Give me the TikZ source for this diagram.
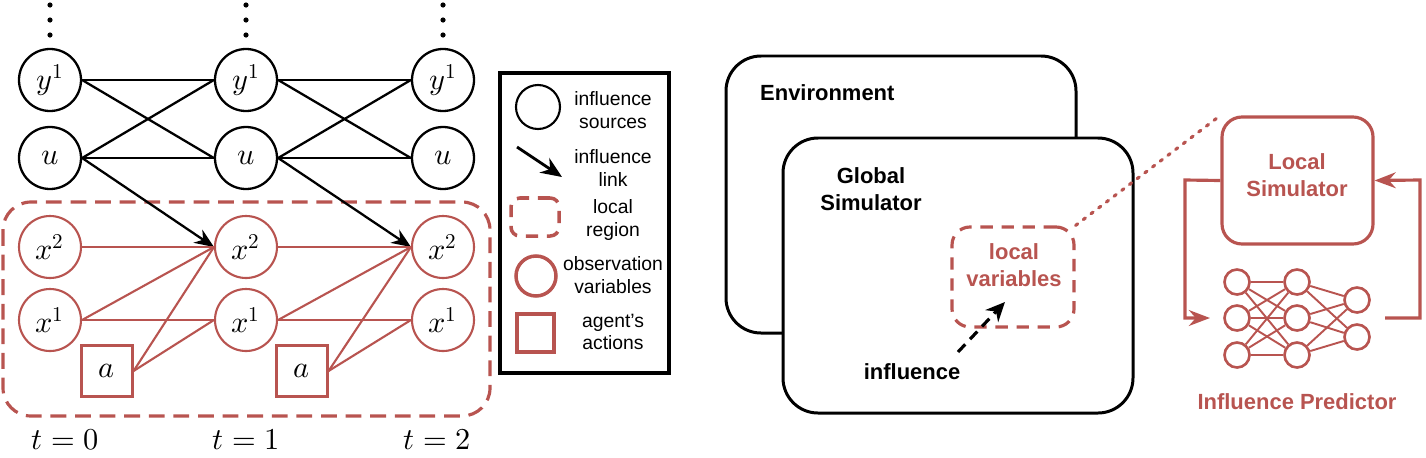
\documentclass[tikz,border=0pt]{standalone}
\usepackage{fontspec}
\setmainfont{Liberation Sans}
\usepackage{unicode-math}
\setmathfont{Latin Modern Math}
\usetikzlibrary{arrows.meta}
\definecolor{rd}{HTML}{B85450}
\begin{document}
\begin{tikzpicture}[x=0.02cm,y=-0.02cm,
  blk/.style={circle,draw=black,line width=1.3pt,minimum size=62*0.02cm,inner sep=0pt,font=\LARGE},
  obs/.style={circle,draw=rd,line width=1.2pt,minimum size=62*0.02cm,inner sep=0pt,font=\LARGE},
  act/.style={rectangle,draw=rd,line width=1.2pt,minimum size=51*0.02cm,inner sep=0pt,font=\LARGE},
  bl/.style={draw=black,line width=1.3pt},
  rl/.style={draw=rd,line width=1.2pt},
  leg/.style={font=\fontsize{11}{13}\selectfont,align=center},
  bigt/.style={font=\bfseries\fontsize{12.5}{15}\selectfont,align=center},
  arr/.style={-{Stealth[length=11pt,width=9pt]}}]
\useasboundingbox (0,0) rectangle (1426,457);
% left diagram
\foreach \i/\x in {0/50,1/246,2/443}{
  \node[blk] (y\i) at (\x,80) {$y^1$};
  \node[blk] (u\i) at (\x,158) {$u$};
  \node[obs] (xb\i) at (\x,247) {$x^2$};
  \node[obs] (xa\i) at (\x,320) {$x^1$};
  \foreach \d in {5,20,35}{\fill (\x,\d) circle[radius=2.6];}
}
\node[act] (a0) at (107,371) {$a$};
\node[act] (a1) at (302,371) {$a$};
\node[font=\LARGE] (t0) at (65,440) {$t=0$};
\node[font=\LARGE] (t1) at (246,440) {$t=1$};
\node[font=\LARGE] (t2) at (437,440) {$t=2$};
\draw[rd,line width=1.8pt,dash pattern=on 9pt off 5pt,rounded corners=28*0.02cm] (3,202) rectangle (490,416);
\foreach \i/\j in {0/1,1/2}{
  \draw[bl] (y\i.east) -- (y\j.west);
  \draw[bl] (y\i.east) -- (u\j.west);
  \draw[bl] (u\i.east) -- (y\j.west);
  \draw[bl] (u\i.east) -- (u\j.west);
  \draw[bl,arr] (u\i.east) -- (xb\j.west);
  \draw[rl] (xb\i.east) -- (xb\j.west);
  \draw[rl] (xa\i.east) -- (xb\j.west);
  \draw[rl] (xa\i.east) -- (xa\j.west);
  \draw[rl] (a\i.east) -- (xb\j.west);
  \draw[rl] (a\i.east) -- (xa\j.west);
}
% legend
\node[draw=black,line width=2.2pt,minimum width=169*0.02cm,minimum height=300*0.02cm,inner sep=0pt] (legbox) at (584.5,223) {};
\node[circle,draw=black,line width=1.2pt,minimum size=44*0.02cm,inner sep=0pt] (lc1) at (538,107) {};
\node[leg] (lt1) at (613,110) {influence\\sources};
\coordinate (la1) at (517,147);
\coordinate (la2) at (562,177);
\draw[bl,line width=1.6pt,-{Stealth[length=12pt,width=10pt]}] (la1) -- (la2);
\node[leg] (lt2) at (613,168) {influence\\link};
\node[draw=rd,line width=2pt,dash pattern=on 7pt off 5pt,rounded corners=5pt,minimum width=48*0.02cm,minimum height=38*0.02cm] (lr) at (535,217) {};
\node[leg] (lt3) at (613,220) {local\\region};
\node[circle,draw=rd,line width=2pt,minimum size=40*0.02cm,inner sep=0pt] (lc2) at (536,276) {};
\node[leg] (lt4) at (613,275) {observation\\variables};
\node[draw=rd,line width=2pt,minimum width=37*0.02cm,minimum height=38*0.02cm,inner sep=0pt] (lsq) at (535.5,333) {};
\node[leg] (lt5) at (613,332) {agent's\\actions};
% right diagram
\draw[bl,line width=1.7pt,rounded corners=35*0.02cm,fill=white] (726,56) rectangle (1076,333);
\node[bigt,anchor=west] (env) at (754,93) {Environment};
\draw[bl,line width=1.7pt,rounded corners=35*0.02cm,fill=white] (783,138) rectangle (1133,413);
\node[bigt] (gs) at (871,189) {Global\\Simulator};
\node[draw=rd,line width=1.8pt,dash pattern=on 7pt off 5pt,rounded corners=18*0.02cm,minimum width=122*0.02cm,minimum height=100*0.02cm,inner sep=0pt] (lv) at (1013,277) {};
\node[bigt,text=rd] (lvt) at (1014,265) {local\\variables};
\node[bigt] (inf) at (912,372) {influence};
\coordinate (ia) at (958,352);
\coordinate (ib) at (1005,302);
\draw[bl,line width=1.8pt,dash pattern=on 6pt off 4pt,-{Stealth[length=11pt,width=10pt]}] (ia) -- (ib);
\node[draw=rd,line width=1.8pt,rounded corners=20*0.02cm,minimum width=151*0.02cm,minimum height=127*0.02cm,inner sep=0pt] (ls) at (1297.5,180.5) {};
\node[bigt,text=rd] (lst) at (1297,175) {Local\\Simulator};
\draw[rd,line width=1.8pt,dash pattern=on 1.5pt off 4pt,line cap=round] (lv.north east) -- (ls.north west);
% neural net
\foreach \n/\x/\y in {a1/1237/282,a2/1237/318,a3/1237/355,b1/1297/282,b2/1297/318,b3/1297/355,c1/1357/300,c2/1357/337}{
  \node[circle,draw=rd,line width=1.5pt,minimum size=25*0.02cm,inner sep=0pt] (\n) at (\x,\y) {};
}
\foreach \p in {a1,a2,a3}{\foreach \q in {b1,b2,b3}{\draw[rd,line width=1.1pt] (\p) -- (\q);}}
\foreach \p in {b1,b2,b3}{\foreach \q in {c1,c2}{\draw[rd,line width=1.1pt] (\p) -- (\q);}}
\node[bigt,text=rd] (ip) at (1297,402) {Influence Predictor};
\coordinate (lin) at (1185,180);
\coordinate (lout) at (1185,318);
\coordinate (nnin) at (1210,318);
\coordinate (rout) at (1385,318);
\coordinate (rc) at (1420,318);
\coordinate (rtop) at (1420,180);
\draw[rd,line width=1.8pt,-{Stealth[length=12pt,width=9pt]}] (ls.west) -- (lin) -- (lout) -- (nnin);
\draw[rd,line width=1.8pt,-{Stealth[length=12pt,width=9pt]}] (rout) -- (rc) -- (rtop) -- (ls.east);
\end{tikzpicture}
\end{document}
